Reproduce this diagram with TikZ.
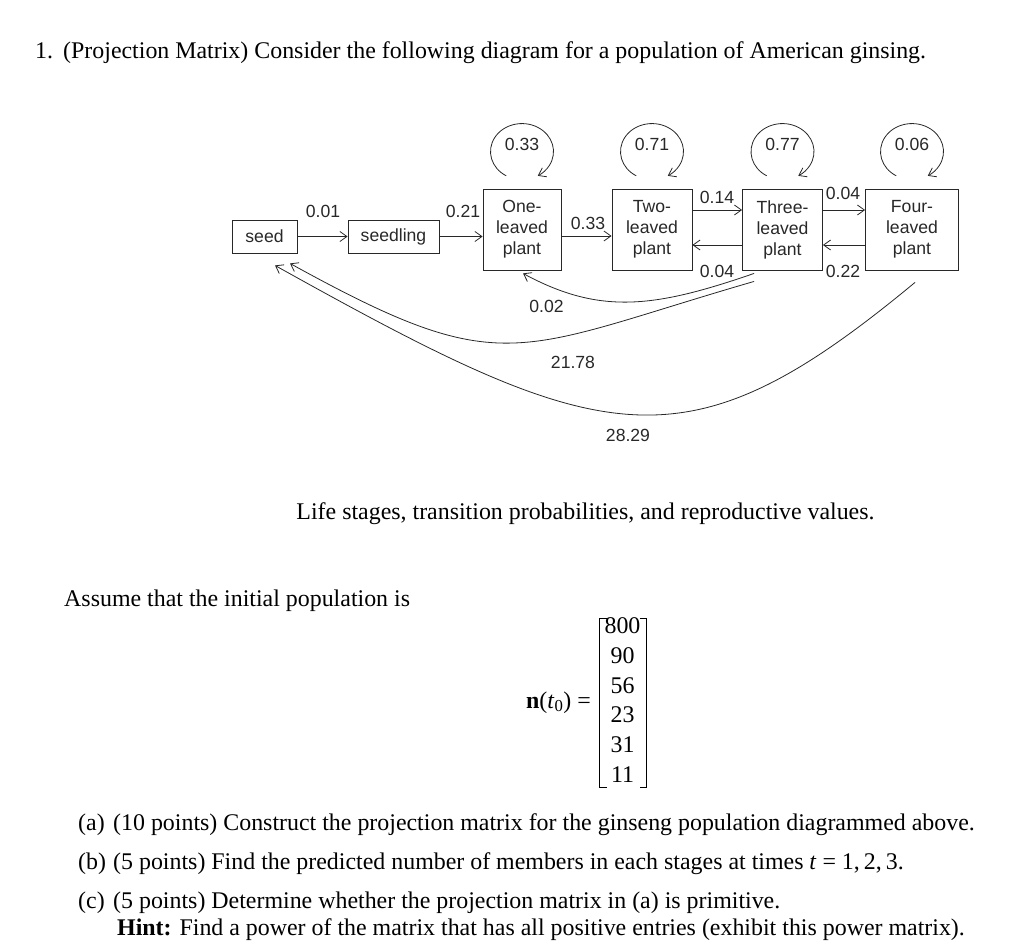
\documentclass[tikz,border=0pt]{standalone}
\usepackage{fontspec}
\setmainfont{Liberation Serif}
\newfontfamily\arialf{Liberation Sans}
\usetikzlibrary{arrows.meta}
\definecolor{dg}{RGB}{40,40,40}
\newcommand\dfont{\arialf\fontsize{17.6}{21}\selectfont}
\newcommand\tfont{\fontsize{23.9}{28}\selectfont}
\begin{document}
\begin{tikzpicture}[x=1pt,y=1pt,
  box/.style={draw=dg, line width=0.85pt, inner sep=0pt, align=center, font=\dfont, text=dg},
  lbl/.style={font=\dfont, text=dg, inner sep=0pt},
  arr/.style={draw=dg, line width=0.8pt, -{Straight Barb[length=7pt,width=10pt]}},
  txt/.style={font=\tfont, anchor=base west, inner sep=0pt},
  brk/.style={line width=0.9pt, line cap=butt}]
\useasboundingbox (0,0) rectangle (1024,-947);

% ---------- boxes ----------
\node[box, minimum width=65pt, minimum height=33pt] (seed) at (264.5,-236.5) {seed};
\node[box, minimum width=91pt, minimum height=33pt] (seedling) at (393.5,-236.5) {seedling};
\node[box, minimum width=78pt, minimum height=81pt] (one) at (522,-229.5) {One-\\leaved\\plant};
\node[box, minimum width=80pt, minimum height=81pt] (two) at (652,-229.5) {Two-\\leaved\\plant};
\node[box, minimum width=80pt, minimum height=81pt] (three) at (782.5,-229.5) {Three-\\leaved\\plant};
\node[box, minimum width=93pt, minimum height=81pt] (four) at (912,-229.5) {Four-\\leaved\\plant};

% ---------- straight transitions ----------
\draw[arr] (seed.east) -- (seedling.west);
\draw[arr] (seedling.east) -- (seedling.east -| one.west);
\draw[arr] ([yshift=-6.5pt]one.east) -- ([yshift=-6.5pt]two.west);
\draw[arr] ([yshift=19.5pt]two.east) -- ([yshift=19.5pt]three.west);
\draw[arr] ([yshift=-15.5pt]three.west) -- ([yshift=-15.5pt]two.east);
\draw[arr] ([yshift=19.5pt]three.east) -- ([yshift=19.5pt]four.west);
\draw[arr] ([yshift=-15.5pt]four.west) -- ([yshift=-15.5pt]three.east);

\node[lbl] (l001) at (323,-211.5) {0.01};
\node[lbl] (l021) at (463,-211.5) {0.21};
\node[lbl] (l033b) at (588,-223) {0.33};
\node[lbl] (l014) at (717,-197) {0.14};
\node[lbl] (l004a) at (717,-271.5) {0.04};
\node[lbl] (l004b) at (843,-193) {0.04};
\node[lbl] (l022) at (843,-271.5) {0.22};

% ---------- self loops ----------
\foreach \n/\v in {one/0.33, two/0.71, three/0.77, four/0.06}{
  \draw[arr] ([shift={(-15.75pt,12.75pt)}]\n.north) arc[start angle=240, end angle=-60, x radius=31.5pt, y radius=28pt];
  \node[lbl] (loop\n) at ([yshift=44.5pt]\n.north) {\v};
}

% ---------- curved (reproduction / regression) ----------
\coordinate (s02) at ([shift={(12pt,-3pt)}]three.south west);
\coordinate (s21) at ([shift={(12pt,-11pt)}]three.south west);
\coordinate (s28) at ([shift={(3pt,-12pt)}]four.south);
\coordinate (t21) at ([shift={(25.5pt,-10pt)}]seed.south);
\coordinate (t28) at ([shift={(10.5pt,-12pt)}]seed.south);
\coordinate (t02) at ([shift={(1pt,-3pt)}]one.south);

\draw[arr] (s02) .. controls (654,-308) and (600,-315) .. (t02);
\draw[arr] (s21) .. controls (514,-351) and (505,-382) .. (t21);
\draw[arr] (s28) .. controls (685,-473) and (606,-450) .. (t28);

\node[lbl] (l002) at (546.5,-306.5) {0.02};
\node[lbl] (l2178) at (573,-362.5) {21.78};
\node[lbl] (l2829) at (628,-435) {28.29};

% ---------- text ----------
\node[txt] (num) at (35,-59) {1.};
\node[txt] (title) at (63,-59) {(Projection Matrix) Consider the following diagram for a population of American ginsing.};
\node[txt, anchor=base] (cap) at (585.5,-519) {Life stages, transition probabilities, and reproductive values.};
\node[txt] (assume) at (64,-606) {Assume that the initial population is};

% ---------- vector ----------
\node[txt, anchor=base east] (neq) at (591,-708) {\textbf{n}(\textit{t}\textsubscript{0}) =};
\foreach \v/\y [count=\i] in {800/633, 90/663, 56/693, 23/722, 31/752, 11/782}{
  \node[txt, anchor=base] (e\i) at (622.5,-\y) {\v};
}
\draw[brk] (606.5,-618) -- (599.5,-618) -- (599.5,-787) -- (606.5,-787);
\draw[brk] (639.5,-618) -- (646.5,-618) -- (646.5,-787) -- (639.5,-787);

% ---------- questions ----------
\node[txt] (qa) at (78,-830) {(a)};
\node[txt] (qat) at (113,-830) {(10 points) Construct the projection matrix for the ginseng population diagrammed above.};
\node[txt] (qb) at (78,-869) {(b)};
\node[txt] (qbt) at (113,-869) {(5 points) Find the predicted number of members in each stages at times \textit{t} = 1,\,2,\,3.};
\node[txt] (qc) at (78,-908) {(c)};
\node[txt] (qct) at (113,-908) {(5 points) Determine whether the projection matrix in (a) is primitive.};
\node[txt] (hint) at (117,-935) {\textbf{Hint:} Find a power of the matrix that has all positive entries (exhibit this power matrix).};
\end{tikzpicture}
\end{document}
